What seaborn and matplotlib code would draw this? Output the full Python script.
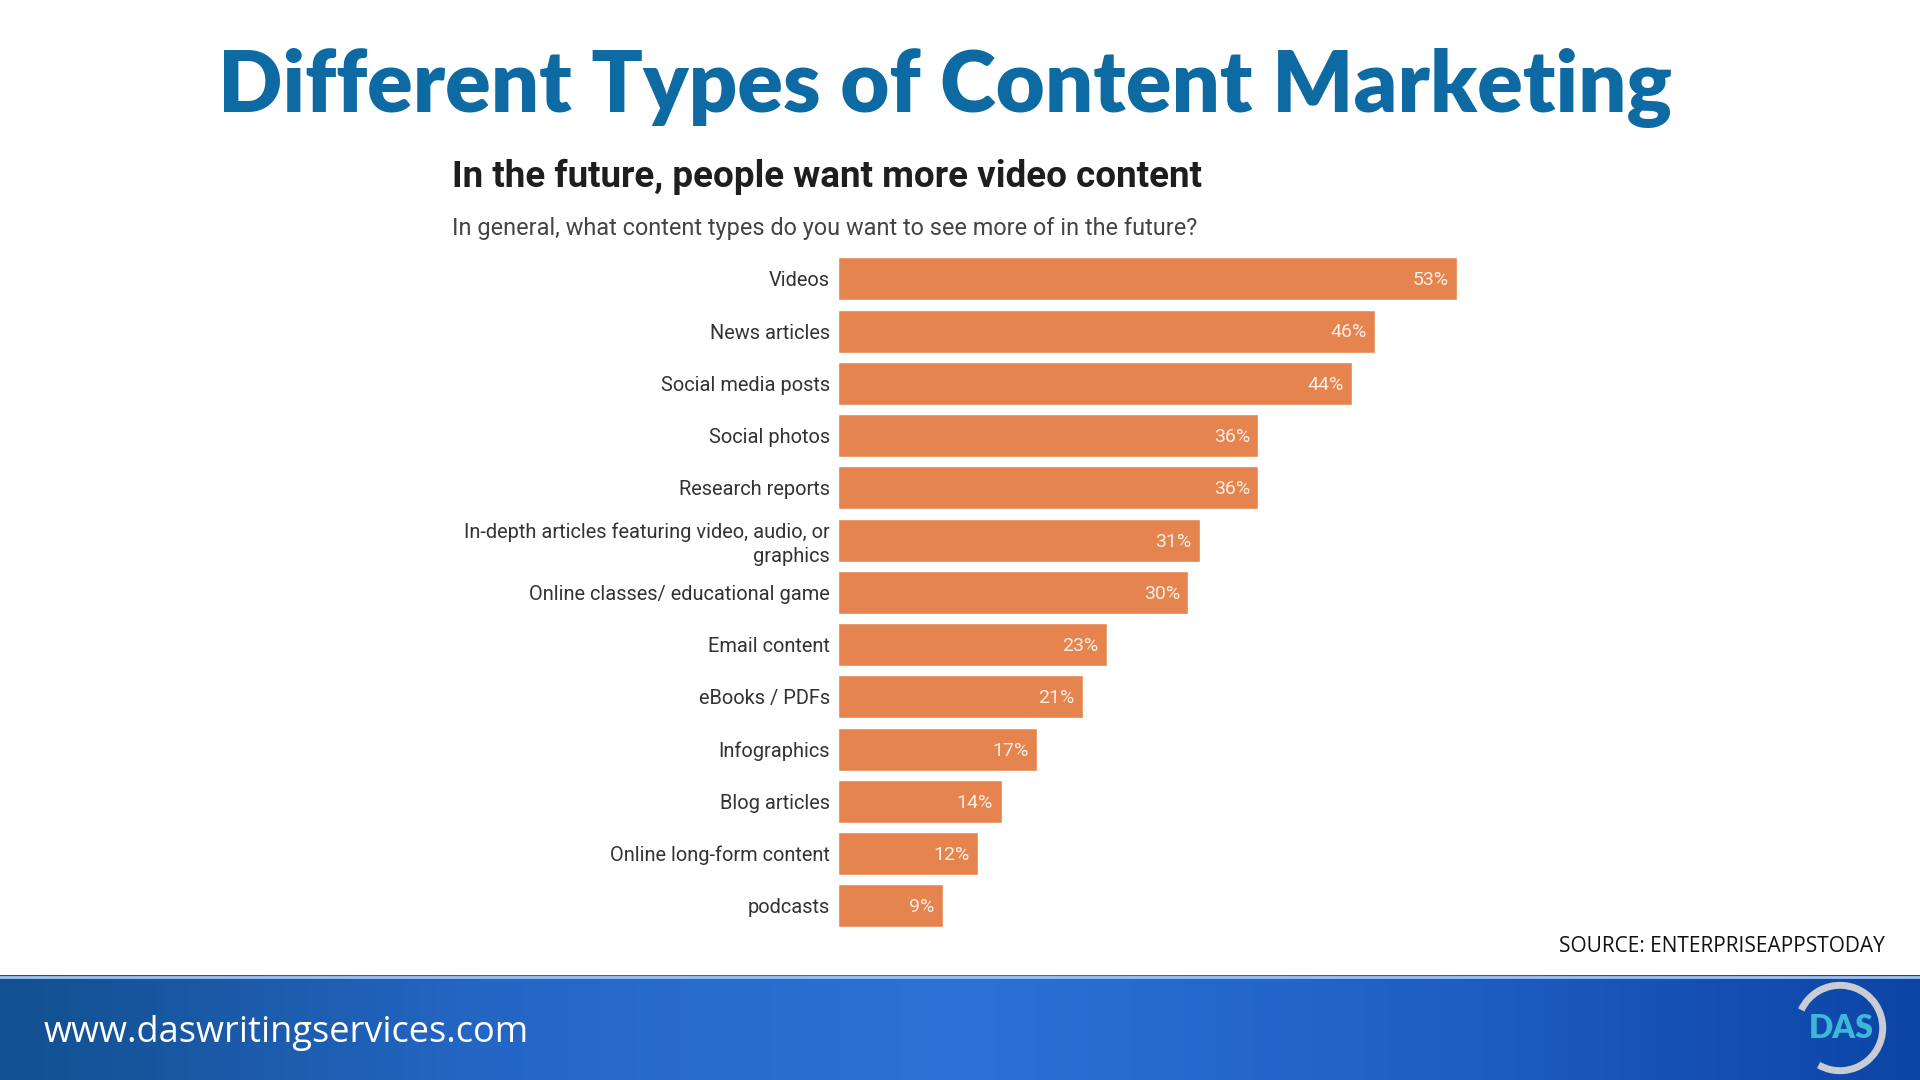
import matplotlib
matplotlib.use("Agg")
import matplotlib.pyplot as plt
import numpy as np
import pandas as pd
import seaborn as sns
from matplotlib.colors import LinearSegmentedColormap
from matplotlib.patches import Arc

# data
categories = ["Videos", "News articles", "Social media posts", "Social photos",
              "Research reports", "In-depth articles featuring video, audio, or\ngraphics",
              "Online classes/ educational game", "Email content", "eBooks / PDFs",
              "Infographics", "Blog articles", "Online long-form content", "podcasts"]
values = [53, 46, 44, 36, 36, 31, 30, 23, 21, 17, 14, 12, 9]

df = pd.DataFrame({"Content": categories, "Share": values})

sns.set_theme(style="white")
plt.rcParams['font.family'] = ['Roboto', 'DejaVu Sans']

fig = plt.figure(figsize=(19.2, 10.8), dpi=100)
fig.patch.set_facecolor("white")

# main bar chart
ax = fig.add_axes([838 / 1920, 0.137, 0.365, 0.629])
sns.barplot(data=df, y="Content", x="Share", orient="h", color="#e6844f",
            width=0.82, saturation=1, ax=ax)
ax.set_xlim(0, 60)
ax.set_ylim(12.5, -0.5)
ax.set_xlabel("")
ax.set_ylabel("")
ax.set_xticks([])
sns.despine(ax=ax, left=True, bottom=True)
ax.tick_params(axis="y", length=0, pad=6, labelsize=14.4, labelcolor="#333333")
for lbl in ax.get_yticklabels():
    lbl.set_horizontalalignment("right")
    lbl.set_linespacing(1.3)

for p, v in zip(ax.patches, values):
    ax.annotate(f"{v}%", (p.get_width(), p.get_y() + p.get_height() / 2),
                xytext=(-6, -1), textcoords="offset points",
                ha="right", va="center", color="#fdeee4", fontsize=14)

# headings
fig.text(945 / 1920, 1 - 88 / 1080, "Different Types of Content Marketing",
         ha="center", va="center", fontsize=61, fontweight="heavy",
         color="#0d6aa3", family=["Lato", "DejaVu Sans"])
fig.text(452 / 1920, 1 - 177 / 1080, "In the future, people want more video content",
         ha="left", va="center", fontsize=26.5, fontweight="bold", color="#1e1e1e")
fig.text(452 / 1920, 1 - 228 / 1080,
         "In general, what content types do you want to see more of in the future?",
         ha="left", va="center", fontsize=16.9, color="#444444")
fig.text(1885 / 1920, 1 - 947 / 1080, "SOURCE: ENTERPRISEAPPSTODAY",
         ha="right", va="center", fontsize=15, color="#111111",
         family=["Open Sans", "DejaVu Sans"])

# footer band with gradient
band = fig.add_axes([0, 0, 1, 105 / 1080])
cmap = LinearSegmentedColormap.from_list(
    "band", ["#12508f", "#2466c4", "#2c72d6", "#1f5fc4", "#0c45a6"])
band.imshow(np.linspace(0, 1, 512)[None, :], aspect="auto", cmap=cmap,
            extent=[0, 1, 0, 1])
band.axhline(0.985, color="#9fc0ec", lw=2)
band.set_xlim(0, 1)
band.set_ylim(0, 1)
band.axis("off")
band.text(44 / 1920, 0.45, "www.daswritingservices.com", ha="left", va="center",
          fontsize=26, color="white", family=["Open Sans", "DejaVu Sans"])

# logo
logo = fig.add_axes([1790 / 1920, 0 / 1080, 100 / 1920, 104 / 1080])
logo.set_xlim(-1.2, 1.2)
logo.set_ylim(-1.2, 1.2)
logo.set_aspect("equal")
logo.axis("off")
logo.add_patch(Arc((0, 0), 2.05, 2.05, theta1=-120, theta2=155,
                   color="#c9ccd4", lw=5))
logo.text(0.02, 0.0, "DAS", ha="center", va="center", fontsize=23,
          fontweight="heavy", color="#3db8d8", family=["Lato", "DejaVu Sans"])

fig.savefig("out.png", dpi=100, facecolor="white")
